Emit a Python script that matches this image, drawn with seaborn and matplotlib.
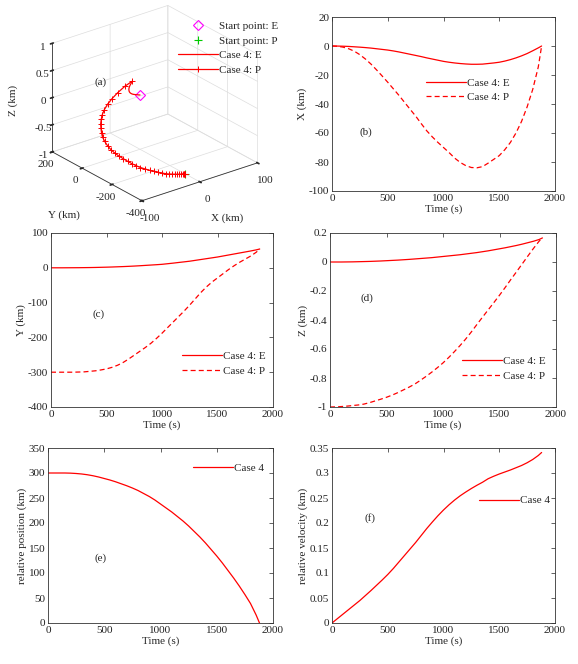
import numpy as np
import pandas as pd
import matplotlib
matplotlib.use("Agg")
import matplotlib.pyplot as plt
import seaborn as sns

# ---------------- data ----------------
time_s = [0, 50, 100, 150, 200, 250, 300, 350, 400, 450, 500, 550, 600, 650,
          700, 750, 800, 850, 900, 950, 1000, 1050, 1100, 1150, 1200, 1250,
          1300, 1350, 1400, 1450, 1500, 1550, 1600, 1650, 1700, 1750, 1800,
          1850, 1880]

x_E = [0, -0.05, -0.15, -0.3, -0.55, -0.8, -1.1, -1.45, -1.9, -2.35, -2.8,
       -3.4, -4.1, -4.9, -5.7, -6.5, -7.3, -8.2, -9.0, -9.8, -10.6, -11.2,
       -11.7, -12.1, -12.4, -12.6, -12.6, -12.5, -12.1, -11.7, -11.2, -10.4,
       -9.4, -8.2, -6.8, -5.2, -3.3, -1.3, 0]
x_P = [0, -0.2, -0.8, -1.9, -3.6, -6.0, -9.0, -12.5, -16.5, -20.7, -25,
       -29.5, -34, -38.8, -43.6, -48.3, -53.5, -58.5, -62.7, -66.5, -70,
       -73.5, -77.3, -80.3, -82.5, -83.8, -84, -83.2, -80.8, -78.2, -75.6,
       -71.5, -66.5, -60, -52, -42, -30, -14.5, 0]

y_E = [0, 0, 0, 0.1, 0.2, 0.3, 0.5, 0.7, 1.0, 1.4, 1.8, 2.3, 2.9, 3.5, 4.2,
       5.0, 5.9, 6.9, 7.9, 8.9, 10, 11.7, 13.4, 15.3, 17.1, 19, 21.4, 23.8,
       26.2, 28.6, 31, 33.9, 36.8, 39.7, 42.6, 45.5, 48.4, 51.6, 54]
y_P = [-300, -300, -300, -300, -300, -299.5, -299, -297.5, -296, -293.5,
       -290.5, -286, -280, -272, -262, -251, -240, -229, -217, -203, -188,
       -172, -156, -140, -124, -107, -89, -71, -55, -41, -29, -17, -5, 6, 16,
       25, 34, 45, 54]

z_E = [0, 0, 0, 0.0005, 0.001, 0.002, 0.003, 0.004, 0.0055, 0.007, 0.009,
       0.011, 0.013, 0.0155, 0.018, 0.021, 0.024, 0.027, 0.030, 0.034, 0.038,
       0.042, 0.046, 0.050, 0.055, 0.060, 0.065, 0.071, 0.077, 0.084, 0.091,
       0.098, 0.106, 0.114, 0.123, 0.133, 0.143, 0.155, 0.166]
z_P = [-1, -0.999, -0.997, -0.994, -0.99, -0.986, -0.98, -0.97, -0.958,
       -0.946, -0.933, -0.918, -0.901, -0.882, -0.863, -0.842, -0.816, -0.789,
       -0.76, -0.729, -0.696, -0.659, -0.619, -0.577, -0.532, -0.483, -0.431,
       -0.38, -0.33, -0.28, -0.229, -0.176, -0.121, -0.068, -0.014, 0.04,
       0.093, 0.143, 0.168]

rel_pos = [300, 300, 300, 300, 299.7, 299, 298, 296.5, 294.5, 292, 289, 286,
           282.5, 278.5, 274.5, 270, 265, 259, 253, 246, 238, 230, 222, 213,
           204, 194, 183, 172, 160, 147, 134, 120, 105, 90, 74, 57, 39, 16, 0]
rel_vel = [0, 0.009, 0.018, 0.027, 0.036, 0.045, 0.055, 0.065, 0.0755, 0.086,
           0.097, 0.109, 0.122, 0.135, 0.148, 0.161, 0.175, 0.189, 0.202,
           0.2145, 0.226, 0.2365, 0.246, 0.2545, 0.262, 0.269, 0.2755, 0.2815,
           0.2885, 0.2935, 0.298, 0.302, 0.306, 0.3105, 0.315, 0.3205, 0.327,
           0.335, 0.341]

lab_E = "Case 4: E"
lab_P = "Case 4: P"
lab_4 = "Case 4"

# ---------------- style ----------------
sns.set_theme(style="white")
plt.rcParams['font.family'] = ['Liberation Serif', 'DejaVu Serif']
plt.rcParams['axes.unicode_minus'] = False
plt.rcParams['axes.linewidth'] = 0.6
plt.rcParams['axes.edgecolor'] = '#333333'

RED = '#ff0000'
FS = 8
plt.rcParams['font.size'] = FS

W, H = 578, 664
fig = plt.figure(figsize=(W / 100, H / 100), dpi=100)


def rect(l, t, r, b):
    return [l / W, 1 - b / H, (r - l) / W, (b - t) / H]


def style2d(ax, xlabel, ylabel, ylim, yticks):
    ax.set_xlim(0, 2000)
    ax.set_xticks([0, 500, 1000, 1500, 2000])
    ax.set_ylim(*ylim)
    ax.set_yticks(yticks)
    ax.tick_params(direction='in', top=True, right=True, length=3,
                   width=0.5, labelsize=FS, pad=2, colors='#222222')
    ax.set_xlabel(xlabel, fontsize=FS, labelpad=1)
    ax.set_ylabel(ylabel, fontsize=FS, labelpad=1)
    for s in ax.spines.values():
        s.set_visible(True)


def two_series(ax, a, b):
    df = pd.DataFrame({'t': time_s + time_s, 'v': a + b,
                       's': [lab_E] * len(time_s) + [lab_P] * len(time_s)})
    sns.lineplot(data=df, x='t', y='v', hue='s', style='s',
                 palette=[RED, RED], dashes=[(None, None), (4, 2.5)],
                 linewidth=0.9, ax=ax, legend=False, sort=False)
    ax.plot([], [], color=RED, lw=0.9, label=lab_E)
    ax.plot([], [], color=RED, lw=0.9, ls=(0, (4, 2.5)), label=lab_P)


LEG = dict(frameon=False, fontsize=FS, handlelength=3.6, handletextpad=0.1,
           labelspacing=0.45, borderpad=0, borderaxespad=0)

# ---------------- (a) 3D (drawn first, transparent background) ----------------
axa = fig.add_axes(rect(6, -38, 296, 252), projection='3d')
axa.patch.set_visible(False)
axa.set_proj_type('ortho')
axa.view_init(elev=25, azim=-127.8)
axa.set_box_aspect((1.22, 1.22, 1), zoom=0.8)
axa.plot(x_E[:1], y_E[:1], z_E[:1], ls='none', marker='D', mfc='none',
         mec='#ff00ff', ms=5, mew=0.8, label='Start point: E')
axa.plot(x_P[:1], y_P[:1], z_P[:1], ls='none', marker='+', color='#00cc00',
         ms=6, mew=0.8, label='Start point: P')
axa.plot(x_E, y_E, z_E, color=RED, lw=0.9, label=lab_E)
axa.plot(x_P, y_P, z_P, color=RED, lw=0.9, marker='+', ms=4, mew=0.7, label=lab_P)
axa.set_xlim(-100, 100)
axa.set_ylim(-400, 200)
axa.set_zlim(-1, 1)
axa.set_xticks([-100, 0, 100])
axa.set_yticks([-400, -200, 0, 200])
axa.set_zticks([-1, -0.5, 0, 0.5, 1])
axa.set_zticklabels(['-1', '-0.5', '0', '0.5', '1'])
axa.tick_params(labelsize=FS, pad=-3)
axa.xaxis.set_tick_params(pad=1)
axa.yaxis.set_tick_params(pad=-2)
for axis in (axa.xaxis, axa.yaxis, axa.zaxis):
    axis.set_pane_color((1, 1, 1, 0))
    axis._axinfo['grid']['color'] = '#dddddd'
    axis._axinfo['grid']['linewidth'] = 0.5
    axis.line.set_linewidth(0.6)
    axis.line.set_color('#333333')
fig.text(227 / W, 1 - 218 / H, 'X (km)', fontsize=FS, ha='center', va='center')
fig.text(64 / W, 1 - 215 / H, 'Y (km)', fontsize=FS, ha='center', va='center')
fig.text(13 / W, 1 - 100 / H, 'Z (km)', fontsize=FS, ha='center', va='center',
         rotation=90)
fig.text(101 / W, 1 - 82 / H, '(a)', fontsize=FS, ha='center', va='center')
axa.legend(loc='upper left', bbox_to_anchor=(178 / W, 1 - 21 / H),
           bbox_transform=fig.transFigure, **LEG)

# ---------------- (b) ----------------
axb = fig.add_axes(rect(332, 17, 555, 191))
two_series(axb, x_E, x_P)
style2d(axb, 'Time (s)', 'X (km)', (-100, 20), range(-100, 21, 20))
axb.legend(loc='center left', bbox_to_anchor=(0.42, 0.58), **LEG)
axb.text(250, -61, '(b)', fontsize=FS)

# ---------------- (c) ----------------
axc = fig.add_axes(rect(51, 233, 273, 407))
two_series(axc, y_E, y_P)
style2d(axc, 'Time (s)', 'Y (km)', (-400, 100), range(-400, 101, 100))
axc.legend(loc='center left', bbox_to_anchor=(0.59, 0.25), **LEG)
axc.text(370, -140, '(c)', fontsize=FS)

# ---------------- (d) ----------------
axd = fig.add_axes(rect(330, 233, 556, 407))
two_series(axd, z_E, z_P)
style2d(axd, 'Time (s)', 'Z (km)', (-1, 0.2), np.round(np.arange(-1, 0.21, 0.2), 1))
axd.set_yticklabels(['-1', '-0.8', '-0.6', '-0.4', '-0.2', '0', '0.2'])
axd.legend(loc='center left', bbox_to_anchor=(0.585, 0.22), **LEG)
axd.text(270, -0.27, '(d)', fontsize=FS)

# ---------------- (e) ----------------
axe = fig.add_axes(rect(48, 448, 273, 623))
sns.lineplot(x=time_s, y=rel_pos, color=RED, linewidth=0.9, ax=axe, label=lab_4)
style2d(axe, 'Time (s)', 'relative position (km)', (0, 350), range(0, 351, 50))
axe.legend(loc='center left', bbox_to_anchor=(0.645, 0.886), **LEG)
axe.text(410, 125, '(e)', fontsize=FS)

# ---------------- (f) ----------------
axf = fig.add_axes(rect(332, 448, 555, 623))
sns.lineplot(x=time_s, y=rel_vel, color=RED, linewidth=0.9, ax=axf, label=lab_4)
style2d(axf, 'Time (s)', 'relative velocity (km)', (0, 0.35),
        np.round(np.arange(0, 0.351, 0.05), 2))
axf.set_yticklabels(['0', '0.05', '0.1', '0.15', '0.2', '0.25', '0.3', '0.35'])
axf.legend(loc='center left', bbox_to_anchor=(0.66, 0.70), **LEG)
axf.text(290, 0.205, '(f)', fontsize=FS)

fig.savefig('out.png', dpi=100, facecolor='white')
